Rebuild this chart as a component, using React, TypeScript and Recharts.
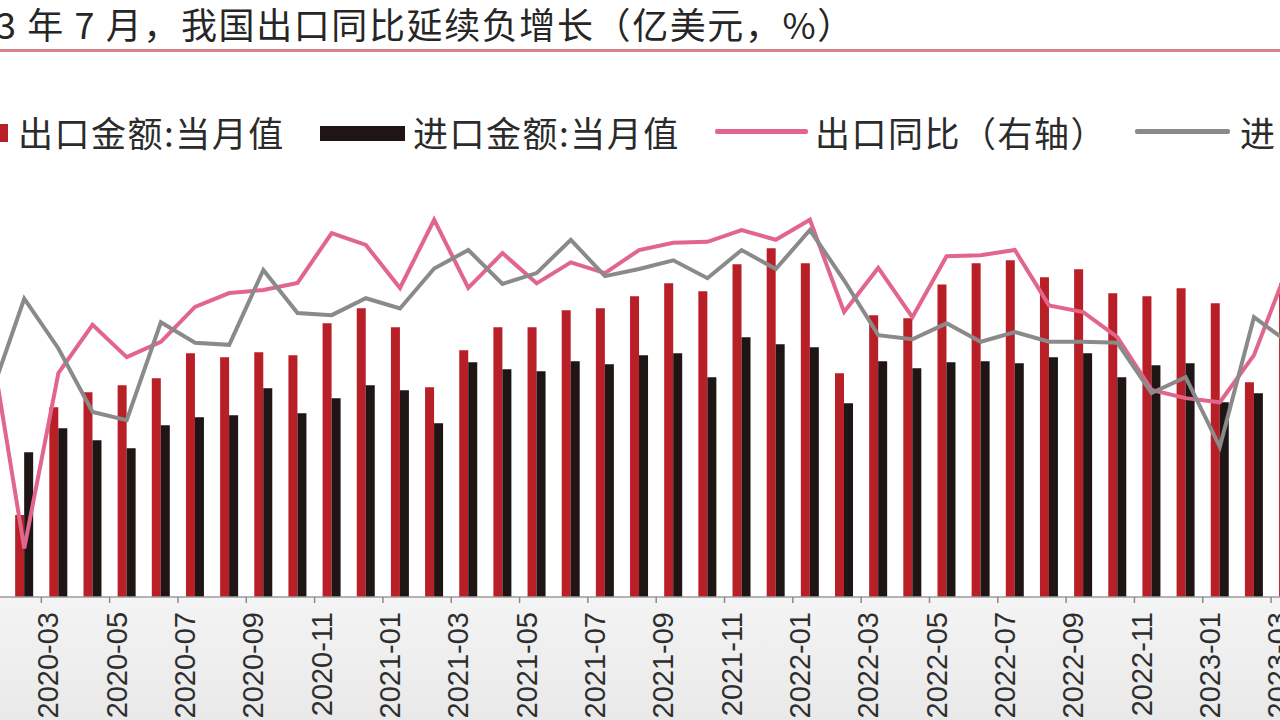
import React from "react";
import { ComposedChart, Bar, Line, XAxis, YAxis } from "recharts";

const months = [
  "2020-01","2020-02","2020-03","2020-04","2020-05","2020-06","2020-07","2020-08","2020-09","2020-10","2020-11","2020-12",
  "2021-01","2021-02","2021-03","2021-04","2021-05","2021-06","2021-07","2021-08","2021-09","2021-10","2021-11","2021-12",
  "2022-01","2022-02","2022-03","2022-04","2022-05","2022-06","2022-07","2022-08","2022-09","2022-10","2022-11","2022-12",
  "2023-01","2023-02","2023-03",
];

// 出口金额:当月值 (亿美元)
const exportValue = [
  2121, 800, 1852, 1998, 2066, 2135, 2378, 2339, 2388, 2359, 2671, 2817,
  2632, 2047, 2407, 2632, 2632, 2797, 2817, 2934, 3060, 2983, 3246, 3402,
  3255, 2183, 2749, 2719, 3050, 3255, 3285, 3119, 3197, 2963, 2934, 3012,
  2866, 2095, 3060,
];

// 进口金额:当月值 (亿美元)
const importValue = [
  1582, 1413, 1647, 1530, 1452, 1676, 1754, 1774, 2037, 1793, 1939, 2066,
  2018, 1696, 2290, 2222, 2203, 2300, 2271, 2359, 2378, 2144, 2534, 2466,
  2437, 1891, 2300, 2232, 2290, 2300, 2281, 2339, 2378, 2144, 2261, 2281,
  1900, 1988, 2270,
];

// 出口同比 (%)
const exportYoY = [
  0.5, -40.5, -6.3, 3.1, -3.2, -0.2, 6.6, 9.3, 9.9, 11.3, 21.0, 18.7,
  10.3, 23.6, 10.3, 17.1, 11.2, 15.3, 13.2, 17.7, 19.1, 19.3, 21.6, 19.7,
  23.6, 5.6, 14.2, 4.6, 16.5, 16.7, 17.7, 6.9, 5.6, 0.7, -9.6, -11.2,
  -12.0, -2.8, 14.5,
];

// 进口同比 (%)
const importYoY = [
  -11.0, 8.2, -1.5, -13.9, -15.5, 3.6, -0.4, -0.8, 13.8, 5.4, 5.0, 8.3,
  6.3, 14.1, 17.7, 11.1, 13.2, 19.7, 12.6, 14.0, 15.7, 12.2, 17.7, 14.0,
  21.6, 11.8, 1.1, 0.3, 3.4, -0.2, 1.7, -0.2, -0.2, -0.4, -10.2, -7.1,
  -20.7, 4.6, -0.3,
];

const leftTicks = [0, 500, 1000, 1500, 2000, 2500, 3000, 3500, 4000];
const rightTicks = [-50, -40, -30, -20, -10, 0, 10, 20, 30];

const data = months.map((m, i) => ({
  month: m,
  exp: exportValue[i],
  imp: importValue[i],
  expYoY: exportYoY[i],
  impYoY: importYoY[i],
}));

const CAT_W = 34.16;
const PLOT_W = CAT_W * months.length;
const AXIS_W = 60;
const CHART_W = PLOT_W + AXIS_W * 2;
const PLOT_H = 410;
const XAXIS_H = 160;
const CHART_H = PLOT_H + XAXIS_H;
const PLOT_LEFT = -26.6;
const PLOT_TOP = 187;

const RED = "#B81F26";
const BLACK = "#1F1515";
const PINK = "#E2658C";
const GRAY = "#8A8A8A";
const CJK = '"Noto Sans CJK SC", "Noto Sans", sans-serif';

const MonthTick = (props: any) => {
  const { x, y, payload } = props;
  const bx = x - CAT_W / 2;
  return (
    <g>
      <line x1={bx} x2={bx} y1={y} y2={y + 6} stroke="#8a8a8a" strokeWidth={1.5} />
      <text
        x={x}
        y={y + 15}
        transform={`rotate(-90, ${x}, ${y + 15})`}
        textAnchor="end"
        fontSize={29}
        fontFamily='"Liberation Sans", Arial, sans-serif'
        fill="#2e2e2e"
      >
        {payload.value}
      </text>
    </g>
  );
};

const legendText: React.CSSProperties = {
  position: "absolute",
  top: 114,
  fontSize: 35,
  lineHeight: "35px",
  letterSpacing: 1.5,
  fontFamily: CJK,
  color: "#2b2b2b",
  whiteSpace: "nowrap",
};

export default function App() {
  return (
    <div
      style={{
        position: "fixed",
        left: 0,
        top: 0,
        width: 1280,
        height: 720,
        overflow: "hidden",
        background: "#ffffff",
      }}
    >
      <div
        style={{
          position: "absolute",
          left: 0,
          top: 598,
          width: 1280,
          height: 122,
          background: "linear-gradient(#f4f4f4, #e9e9e9)",
        }}
      />
      <div
        style={{
          position: "absolute",
          left: -4,
          top: 5,
          fontSize: 36,
          lineHeight: "36px",
          letterSpacing: 1.6,
          fontFamily: CJK,
          color: "#262626",
          whiteSpace: "nowrap",
        }}
      >
        3 年 7 月，我国出口同比延续负增长（亿美元，%）
      </div>
      <div
        style={{
          position: "absolute",
          left: 0,
          top: 49,
          width: 1280,
          height: 3,
          background: "#D6838E",
        }}
      />

      {/* legend */}
      <div style={{ position: "absolute", left: -77, top: 124, width: 85, height: 18, background: RED }} />
      <div style={{ ...legendText, left: 18 }}>出口金额:当月值</div>
      <div style={{ position: "absolute", left: 320, top: 126, width: 85, height: 15, background: BLACK }} />
      <div style={{ ...legendText, left: 413 }}>进口金额:当月值</div>
      <div style={{ position: "absolute", left: 715, top: 129, width: 93, height: 5, background: PINK, borderRadius: 2 }} />
      <div style={{ ...legendText, left: 815 }}>出口同比（右轴）</div>
      <div style={{ position: "absolute", left: 1135, top: 129, width: 95, height: 5, background: GRAY, borderRadius: 2 }} />
      <div style={{ ...legendText, left: 1240 }}>进口同比（右轴）</div>

      <div
        style={{
          position: "absolute",
          left: PLOT_LEFT - AXIS_W,
          top: PLOT_TOP,
          width: CHART_W,
          height: CHART_H,
        }}
      >
        <ComposedChart
          width={CHART_W}
          height={CHART_H}
          data={data}
          margin={{ top: 0, right: 0, bottom: 0, left: 0 }}
          barGap={0}
        >
          <XAxis
            dataKey="month"
            interval={1}
            height={XAXIS_H}
            tickLine={false}
            tickSize={0}
            tickMargin={0}
            axisLine={{ stroke: "#9a9a9a", strokeWidth: 1.5 }}
            tick={<MonthTick />}
          />
          <YAxis
            yAxisId="left"
            orientation="left"
            width={AXIS_W}
            domain={[0, 4000]}
            ticks={leftTicks}
            tick={{ fontSize: 20, fill: "#333" }}
            axisLine={false}
            tickLine={false}
          />
          <YAxis
            yAxisId="right"
            orientation="right"
            width={AXIS_W}
            domain={[-50, 30]}
            ticks={rightTicks}
            tick={{ fontSize: 20, fill: "#333" }}
            axisLine={false}
            tickLine={false}
          />
          <Bar yAxisId="left" dataKey="exp" name="出口金额:当月值" fill={RED} barSize={9} isAnimationActive={false} />
          <Bar yAxisId="left" dataKey="imp" name="进口金额:当月值" fill={BLACK} barSize={9} isAnimationActive={false} />
          <Line
            yAxisId="right"
            type="linear"
            dataKey="expYoY"
            name="出口同比（右轴）"
            stroke={PINK}
            strokeWidth={4}
            dot={false}
            isAnimationActive={false}
          />
          <Line
            yAxisId="right"
            type="linear"
            dataKey="impYoY"
            name="进口同比（右轴）"
            stroke={GRAY}
            strokeWidth={4}
            dot={false}
            isAnimationActive={false}
          />
        </ComposedChart>
      </div>
    </div>
  );
}
